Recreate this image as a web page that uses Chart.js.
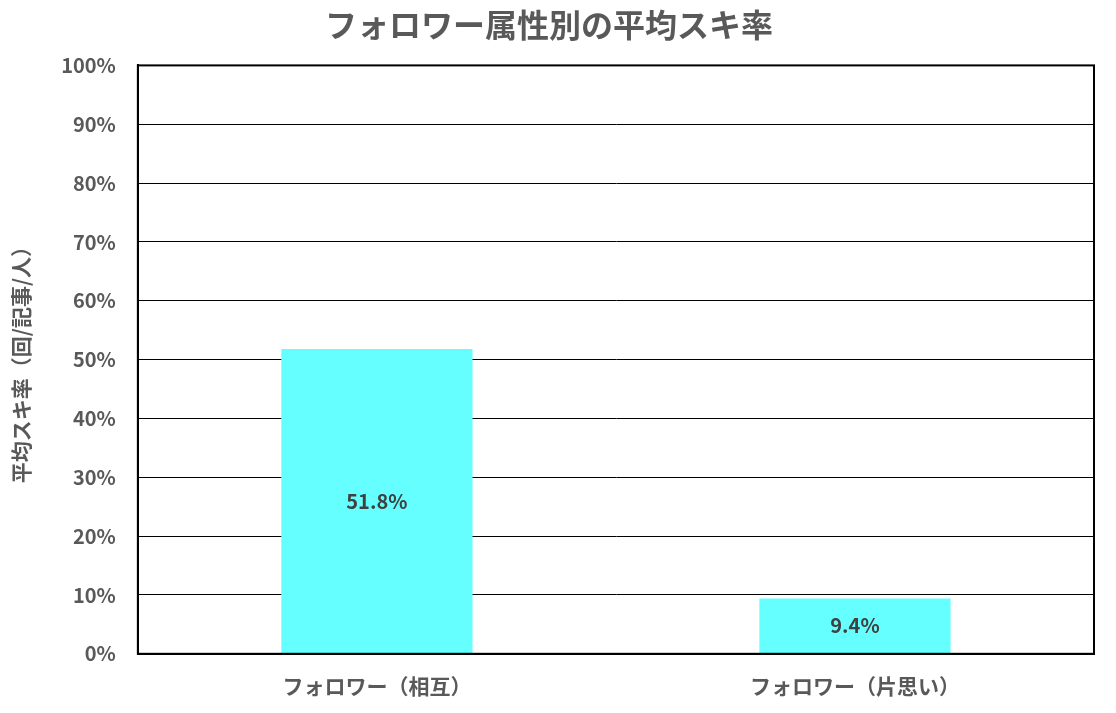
<!DOCTYPE html>
<html><head><meta charset="utf-8">
<script src="https://cdn.jsdelivr.net/npm/chart.js@4"></script>
<style>html,body{margin:0;padding:0;background:#fff}#w{width:1116px;height:713px}</style>
</head><body><div id="w"><canvas id="c"></canvas></div>
<script>
const categories = ['フォロワー（相互）', 'フォロワー（片思い）'];
const values = [51.8, 9.4];
const yTicks = [0,10,20,30,40,50,60,70,80,90,100];
const FONT = '"Noto Sans CJK JP", "Noto Sans", sans-serif';
const frame = {
  id:'frame',
  afterDatasetsDraw(c){
    const {ctx, chartArea:a} = c;
    ctx.save(); ctx.strokeStyle='#000'; ctx.lineWidth=2;
    ctx.strokeRect(a.left, a.top, a.right-a.left, a.bottom-a.top);
    const m = c.getDatasetMeta(0);
    ctx.fillStyle='#404040'; ctx.font='bold 20px '+FONT;
    ctx.textAlign='center'; ctx.textBaseline='middle';
    m.data.forEach((b,i)=>{
      ctx.fillText(values[i].toFixed(1)+'%', b.x, (b.y+b.base)/2);
    });
    ctx.restore();
  }
};
new Chart(document.getElementById('c'), {
  type:'bar',
  data:{labels:categories, datasets:[{data:values, backgroundColor:'#66FFFF', categoryPercentage:0.8, barPercentage:0.5}]},
  options:{
    responsive:true, maintainAspectRatio:false, animation:false,
    layout:{padding:{left:4, right:22, top:0, bottom:2}},
    plugins:{legend:{display:false}, tooltip:{enabled:false},
      title:{display:true, text:'フォロワー属性別の平均スキ率', color:'#595959',
        font:{family:FONT, size:32, weight:'bold'}, padding:{top:6,bottom:21}}},
    scales:{
      x:{grid:{display:false}, border:{color:'#000', width:2},
        ticks:{color:'#595959', font:{family:FONT, size:21, weight:'bold'}, padding:12}},
      y:{min:0, max:100, afterBuildTicks(s){s.ticks=yTicks.map(v=>({value:v}));},
        grid:{color:'#000', lineWidth:1, drawTicks:false}, border:{color:'#000', width:2},
        ticks:{color:'#595959', padding:22, font:{family:FONT, size:20, weight:'bold'}, callback:v=>v+'%'},
        title:{display:true, text:'平均スキ率（回/記事/人）', color:'#595959', font:{family:FONT, size:21, weight:'bold'}, padding:{bottom:6}}}
    }
  },
  plugins:[frame]
});
</script></body></html>
